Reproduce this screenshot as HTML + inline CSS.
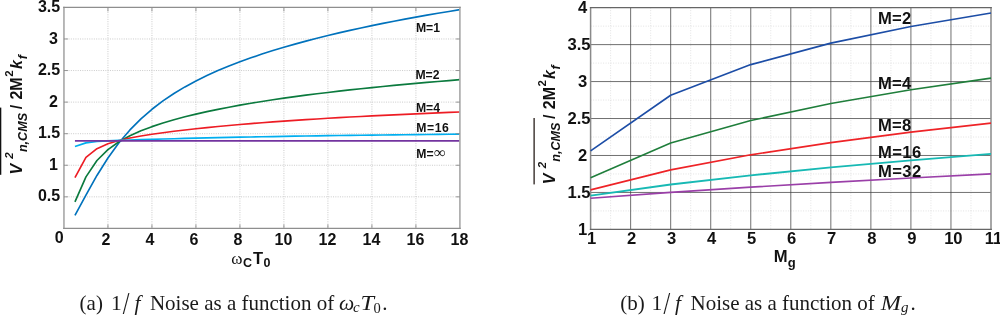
<!DOCTYPE html>
<html lang="en">
<head>
<meta charset="utf-8">
<title>1/f Noise figure</title>
<style>
html,body{margin:0;padding:0;background:#fff;}
body{width:1000px;height:316px;overflow:hidden;}
svg{display:block;}
</style>
</head>
<body>
<svg width="1000" height="316" viewBox="0 0 1000 316">
<rect width="1000" height="316" fill="#fff"/>
<g id="left">
<g stroke="#c2c2c2" stroke-width="0.85" stroke-dasharray="1 1.3" fill="none">
<line x1="107.94" y1="7.4" x2="107.94" y2="228.4"/>
<line x1="151.94" y1="7.4" x2="151.94" y2="228.4"/>
<line x1="195.93" y1="7.4" x2="195.93" y2="228.4"/>
<line x1="239.93" y1="7.4" x2="239.93" y2="228.4"/>
<line x1="283.92" y1="7.4" x2="283.92" y2="228.4"/>
<line x1="327.92" y1="7.4" x2="327.92" y2="228.4"/>
<line x1="371.91" y1="7.4" x2="371.91" y2="228.4"/>
<line x1="415.91" y1="7.4" x2="415.91" y2="228.4"/>
<line x1="63.95" y1="196.83" x2="459.9" y2="196.83"/>
<line x1="63.95" y1="165.26" x2="459.9" y2="165.26"/>
<line x1="63.95" y1="133.69" x2="459.9" y2="133.69"/>
<line x1="63.95" y1="102.11" x2="459.9" y2="102.11"/>
<line x1="63.95" y1="70.54" x2="459.9" y2="70.54"/>
<line x1="63.95" y1="38.97" x2="459.9" y2="38.97"/>
</g>
<polyline points="74.95,215.28 85.95,195.14 96.95,175.45 107.94,157.95 118.94,142.84 129.94,129.92 140.94,118.84 151.94,109.26 162.94,100.89 173.94,93.50 184.93,86.90 195.93,80.96 206.93,75.55 217.93,70.60 228.93,66.02 239.93,61.77 250.93,57.80 261.93,54.07 272.92,50.56 283.92,47.24 294.92,44.09 305.92,41.10 316.92,38.24 327.92,35.51 338.92,32.89 349.91,30.38 360.91,27.97 371.91,25.65 382.91,23.41 393.91,21.25 404.91,19.16 415.91,17.14 426.90,15.18 437.90,13.28 448.90,11.44 459.90,9.65" fill="none" stroke="#0072bc" stroke-width="1.65" stroke-linejoin="round"/>
<polyline points="74.95,201.81 85.95,176.87 96.95,160.52 107.94,149.58 118.94,141.74 129.94,135.72 140.94,130.81 151.94,126.65 162.94,123.01 173.94,119.76 184.93,116.82 195.93,114.13 206.93,111.64 217.93,109.34 228.93,107.19 239.93,105.17 250.93,103.28 261.93,101.49 272.92,99.79 283.92,98.18 294.92,96.65 305.92,95.19 316.92,93.79 327.92,92.45 338.92,91.17 349.91,89.93 360.91,88.74 371.91,87.60 382.91,86.49 393.91,85.42 404.91,84.39 415.91,83.39 426.90,82.42 437.90,81.48 448.90,80.57 459.90,79.68" fill="none" stroke="#0b7a3e" stroke-width="1.65" stroke-linejoin="round"/>
<polyline points="74.95,177.57 85.95,157.32 96.95,148.67 107.94,143.69 118.94,140.45 129.94,138.02 140.94,136.01 151.94,134.27 162.94,132.70 173.94,131.27 184.93,129.95 195.93,128.71 206.93,127.56 217.93,126.48 228.93,125.46 239.93,124.49 250.93,123.58 261.93,122.71 272.92,121.89 283.92,121.10 294.92,120.36 305.92,119.64 316.92,118.95 327.92,118.30 338.92,117.66 349.91,117.05 360.91,116.47 371.91,115.90 382.91,115.35 393.91,114.83 404.91,114.31 415.91,113.82 426.90,113.34 437.90,112.87 448.90,112.42 459.90,111.98" fill="none" stroke="#ed1c24" stroke-width="1.65" stroke-linejoin="round"/>
<polyline points="74.95,146.54 85.95,142.86 96.95,141.54 107.94,140.88 118.94,140.42 129.94,140.04 140.94,139.68 151.94,139.35 162.94,139.04 173.94,138.73 184.93,138.44 195.93,138.17 206.93,137.90 217.93,137.65 228.93,137.41 239.93,137.18 250.93,136.97 261.93,136.76 272.92,136.56 283.92,136.37 294.92,136.19 305.92,136.01 316.92,135.84 327.92,135.68 338.92,135.53 349.91,135.38 360.91,135.23 371.91,135.09 382.91,134.96 393.91,134.83 404.91,134.70 415.91,134.58 426.90,134.46 437.90,134.35 448.90,134.23 459.90,134.12" fill="none" stroke="#00aeef" stroke-width="1.65" stroke-linejoin="round"/>
<line x1="74.95" y1="140.87" x2="459.9" y2="140.87" stroke="#73349f" stroke-width="1.65"/>
<path d="M63.95 6.800000000000001V229.0M459.9 6.800000000000001V229.0" fill="none" stroke="#a8a8a8" stroke-width="1.6"/>
<path d="M63.150000000000006 7.4H460.7M63.150000000000006 228.4H460.7" fill="none" stroke="#8e8e8e" stroke-width="1.15"/>
<g stroke="#8c8c8c" stroke-width="0.9">
<line x1="107.94" y1="228.4" x2="107.94" y2="224.4"/>
<line x1="107.94" y1="7.4" x2="107.94" y2="11.4"/>
<line x1="151.94" y1="228.4" x2="151.94" y2="224.4"/>
<line x1="151.94" y1="7.4" x2="151.94" y2="11.4"/>
<line x1="195.93" y1="228.4" x2="195.93" y2="224.4"/>
<line x1="195.93" y1="7.4" x2="195.93" y2="11.4"/>
<line x1="239.93" y1="228.4" x2="239.93" y2="224.4"/>
<line x1="239.93" y1="7.4" x2="239.93" y2="11.4"/>
<line x1="283.92" y1="228.4" x2="283.92" y2="224.4"/>
<line x1="283.92" y1="7.4" x2="283.92" y2="11.4"/>
<line x1="327.92" y1="228.4" x2="327.92" y2="224.4"/>
<line x1="327.92" y1="7.4" x2="327.92" y2="11.4"/>
<line x1="371.91" y1="228.4" x2="371.91" y2="224.4"/>
<line x1="371.91" y1="7.4" x2="371.91" y2="11.4"/>
<line x1="415.91" y1="228.4" x2="415.91" y2="224.4"/>
<line x1="415.91" y1="7.4" x2="415.91" y2="11.4"/>
<line x1="63.95" y1="196.83" x2="67.95" y2="196.83"/>
<line x1="459.9" y1="196.83" x2="455.9" y2="196.83"/>
<line x1="63.95" y1="165.26" x2="67.95" y2="165.26"/>
<line x1="459.9" y1="165.26" x2="455.9" y2="165.26"/>
<line x1="63.95" y1="133.69" x2="67.95" y2="133.69"/>
<line x1="459.9" y1="133.69" x2="455.9" y2="133.69"/>
<line x1="63.95" y1="102.11" x2="67.95" y2="102.11"/>
<line x1="459.9" y1="102.11" x2="455.9" y2="102.11"/>
<line x1="63.95" y1="70.54" x2="67.95" y2="70.54"/>
<line x1="459.9" y1="70.54" x2="455.9" y2="70.54"/>
<line x1="63.95" y1="38.97" x2="67.95" y2="38.97"/>
<line x1="459.9" y1="38.97" x2="455.9" y2="38.97"/>
</g>
<g font-family='"Liberation Sans", Arial, Helvetica, sans-serif' font-weight="bold" font-size="16" fill="#111" text-anchor="end">
<text x="60.2" y="12.00">3.5</text>
<text x="57.8" y="43.57">3</text>
<text x="60.2" y="75.14">2.5</text>
<text x="57.8" y="106.71">2</text>
<text x="60.2" y="138.29">1.5</text>
<text x="57.8" y="169.86">1</text>
<text x="60.2" y="201.43">0.5</text>
<text x="63.6" y="242.8">0</text>
</g>
<g font-family='"Liberation Sans", Arial, Helvetica, sans-serif' font-weight="bold" font-size="16" fill="#111" text-anchor="middle">
<text x="105.94" y="244.5">2</text>
<text x="149.94" y="244.5">4</text>
<text x="193.93" y="244.5">6</text>
<text x="237.93" y="244.5">8</text>
<text x="283.52" y="244.5">10</text>
<text x="327.52" y="244.5">12</text>
<text x="371.51" y="244.5">14</text>
<text x="415.51" y="244.5">16</text>
<text x="459.50" y="244.5">18</text>
</g>
<text x="231.3" y="263.6" font-family='"Liberation Serif", "Times New Roman", Times, serif' font-size="17" fill="#111">ω</text>
<g font-family='"Liberation Sans", Arial, Helvetica, sans-serif' font-weight="bold" fill="#111">
<text x="243.1" y="267.2" font-size="12.5">C</text>
<text x="253.0" y="263.5" font-size="16.5">T</text>
<text x="263.4" y="267.2" font-size="12.5">0</text>
</g>
<g font-family='"Liberation Sans", Arial, Helvetica, sans-serif' font-weight="bold" font-size="12.2" fill="#111">
<text x="415.9" y="31.6" letter-spacing="0">M=1</text>
<text x="415.4" y="78.9" letter-spacing="0">M=2</text>
<text x="415.9" y="111.5" letter-spacing="0">M=4</text>
<text x="416.3" y="131.8" letter-spacing="0.55">M=16</text>
<text x="416.3" y="158.3">M=<tspan font-family='"Liberation Serif", "Times New Roman", Times, serif' font-weight="normal" font-size="16.5" dx="0.3">∞</tspan></text>
</g>
</g>
<g font-family='"Liberation Sans", Arial, Helvetica, sans-serif' font-weight="bold" fill="#111">
<text transform="translate(22.00,174.60) rotate(-90)" font-size="16" font-style="italic">V</text>
<text transform="translate(12.80,158.70) rotate(-90)" font-size="11.5" font-style="italic">2</text>
<text transform="translate(27.00,152.10) rotate(-90)" font-size="12.6" font-style="italic">n,CMS</text>
<text transform="translate(22.00,109.30) rotate(-90)" font-size="16">/</text>
<text transform="translate(22.00,99.60) rotate(-90)" font-size="16">2M</text>
<text transform="translate(12.80,76.80) rotate(-90)" font-size="11.5">2</text>
<text transform="translate(22.00,68.90) rotate(-90)" font-size="16" font-style="italic">k</text>
<text transform="translate(27.00,59.30) rotate(-90)" font-size="12.6" font-style="italic">f</text>
</g>
<rect x="-0.3" y="107.60" width="1.6" height="67.20" fill="#111"/>
<g font-family='"Liberation Sans", Arial, Helvetica, sans-serif' font-weight="bold" fill="#111">
<text transform="translate(555.20,184.20) rotate(-90)" font-size="16" font-style="italic">V</text>
<text transform="translate(546.00,168.30) rotate(-90)" font-size="11.5" font-style="italic">2</text>
<text transform="translate(560.20,161.70) rotate(-90)" font-size="12.6" font-style="italic">n,CMS</text>
<text transform="translate(555.20,118.90) rotate(-90)" font-size="16">/</text>
<text transform="translate(555.20,109.20) rotate(-90)" font-size="16">2M</text>
<text transform="translate(546.00,86.40) rotate(-90)" font-size="11.5">2</text>
<text transform="translate(555.20,79.10) rotate(-90)" font-size="16" font-style="italic">k</text>
<text transform="translate(560.20,69.50) rotate(-90)" font-size="12.6" font-style="italic">f</text>
</g>
<rect x="533.3" y="118.00" width="1.7" height="66.40" fill="#5a5350"/>
<g id="right">
<g stroke="#dcdcdc" stroke-width="0.8" stroke-dasharray="1 1.5" fill="none">
<line x1="610.62" y1="7.65" x2="610.62" y2="229.4"/>
<line x1="650.66" y1="7.65" x2="650.66" y2="229.4"/>
<line x1="690.70" y1="7.65" x2="690.70" y2="229.4"/>
<line x1="730.74" y1="7.65" x2="730.74" y2="229.4"/>
<line x1="770.78" y1="7.65" x2="770.78" y2="229.4"/>
<line x1="810.82" y1="7.65" x2="810.82" y2="229.4"/>
<line x1="850.86" y1="7.65" x2="850.86" y2="229.4"/>
<line x1="890.90" y1="7.65" x2="890.90" y2="229.4"/>
<line x1="930.94" y1="7.65" x2="930.94" y2="229.4"/>
<line x1="970.98" y1="7.65" x2="970.98" y2="229.4"/>
<line x1="590.6" y1="210.92" x2="991.0" y2="210.92"/>
<line x1="590.6" y1="173.96" x2="991.0" y2="173.96"/>
<line x1="590.6" y1="137.00" x2="991.0" y2="137.00"/>
<line x1="590.6" y1="100.05" x2="991.0" y2="100.05"/>
<line x1="590.6" y1="63.09" x2="991.0" y2="63.09"/>
<line x1="590.6" y1="26.13" x2="991.0" y2="26.13"/>
</g>
<g stroke="#404040" stroke-width="0.75" fill="none">
<line x1="630.64" y1="7.65" x2="630.64" y2="229.4"/>
<line x1="670.68" y1="7.65" x2="670.68" y2="229.4"/>
<line x1="710.72" y1="7.65" x2="710.72" y2="229.4"/>
<line x1="750.76" y1="7.65" x2="750.76" y2="229.4"/>
<line x1="790.80" y1="7.65" x2="790.80" y2="229.4"/>
<line x1="830.84" y1="7.65" x2="830.84" y2="229.4"/>
<line x1="870.88" y1="7.65" x2="870.88" y2="229.4"/>
<line x1="910.92" y1="7.65" x2="910.92" y2="229.4"/>
<line x1="950.96" y1="7.65" x2="950.96" y2="229.4"/>
<line x1="590.6" y1="192.44" x2="991.0" y2="192.44"/>
<line x1="590.6" y1="155.48" x2="991.0" y2="155.48"/>
<line x1="590.6" y1="118.53" x2="991.0" y2="118.53"/>
<line x1="590.6" y1="81.57" x2="991.0" y2="81.57"/>
<line x1="590.6" y1="44.61" x2="991.0" y2="44.61"/>
</g>
<path d="M590.6 7.1000000000000005V229.95000000000002M991.0 7.1000000000000005V229.95000000000002" fill="none" stroke="#8a8a8a" stroke-width="1.5"/>
<path d="M589.9 7.65H991.8M589.9 229.4H991.8" fill="none" stroke="#666" stroke-width="1.15"/>
<polyline points="590.60,150.88 670.68,95.26 750.76,64.59 830.84,43.08 910.92,26.48 991.00,12.94" fill="none" stroke="#1c4da6" stroke-width="1.65" stroke-linejoin="round"/>
<polyline points="590.60,177.71 670.68,143.10 750.76,120.53 830.84,103.46 910.92,89.69 991.00,78.12" fill="none" stroke="#1f7e3b" stroke-width="1.6" stroke-linejoin="round"/>
<polyline points="590.60,189.91 670.68,169.84 750.76,154.81 830.84,142.56 910.92,132.16 991.00,123.11" fill="none" stroke="#ee2327" stroke-width="1.65" stroke-linejoin="round"/>
<polyline points="590.60,195.58 670.68,184.53 750.76,175.37 830.84,167.40 910.92,160.31 991.00,153.91" fill="none" stroke="#17b9b4" stroke-width="1.85" stroke-linejoin="round"/>
<polyline points="590.60,198.28 670.68,192.41 750.76,187.19 830.84,182.42 910.92,178.01 991.00,173.90" fill="none" stroke="#9a3fa8" stroke-width="1.65" stroke-linejoin="round"/>
<g font-family='"Liberation Sans", Arial, Helvetica, sans-serif' font-weight="bold" font-size="16.6" fill="#111">
<text x="878.1" y="24.0" letter-spacing="0.15">M=2</text>
<text x="878.1" y="88.6" letter-spacing="0.15">M=4</text>
<text x="878.1" y="131.2" letter-spacing="0.15">M=8</text>
<text x="878.1" y="158.4" letter-spacing="0.35">M=16</text>
<text x="878.1" y="176.6" letter-spacing="0.35">M=32</text>
</g>
<g font-family='"Liberation Sans", Arial, Helvetica, sans-serif' font-weight="bold" font-size="16.6" fill="#111" text-anchor="end">
<text x="587.3" y="13.25">4</text>
<text x="590.5" y="50.21">3.5</text>
<text x="587.3" y="87.17">3</text>
<text x="590.5" y="124.12">2.5</text>
<text x="587.3" y="161.08">2</text>
<text x="590.5" y="198.04">1.5</text>
<text x="587.3" y="235.00">1</text>
</g>
<g font-family='"Liberation Sans", Arial, Helvetica, sans-serif' font-weight="bold" font-size="16.6" fill="#111" text-anchor="middle">
<text x="591.50" y="244.1">1</text>
<text x="631.54" y="244.1">2</text>
<text x="671.58" y="244.1">3</text>
<text x="711.62" y="244.1">4</text>
<text x="751.66" y="244.1">5</text>
<text x="791.70" y="244.1">6</text>
<text x="831.74" y="244.1">7</text>
<text x="871.78" y="244.1">8</text>
<text x="911.82" y="244.1">9</text>
<text x="953.36" y="244.1">10</text>
<text x="993.40" y="244.1">11</text>
</g>
<g font-family='"Liberation Sans", Arial, Helvetica, sans-serif' font-weight="bold" fill="#111">
<text x="773.7" y="262" font-size="16.6">M</text>
<text x="787.8" y="266.6" font-size="13">g</text>
</g>
</g>
<g font-family='"Liberation Serif", "Times New Roman", Times, serif' font-size="21.0" fill="#1a1a1a">
<text x="79.60" y="309.6">(a)</text>
<text x="111.00" y="309.6" font-size="21.5">1</text>
<text transform="translate(122.80,314.1) scale(0.78,1)" font-size="31">/</text>
<text x="134.50" y="309.6" font-style="italic" font-size="21.5">f</text>
<text x="149.90" y="309.6">Noise as a function of</text>
<text x="339.0" y="309.6" font-style="italic" font-size="21.5">ω</text>
<text x="353.0" y="312.2" font-style="italic" font-size="15">c</text>
<text transform="translate(360.6,309.6) scale(1.13,1)" font-style="italic" font-size="21.5">T</text>
<text x="373.6" y="312.6" font-size="14.5">0</text>
<text x="382.2" y="309.6">.</text>
<text x="620.20" y="309.6">(b)</text>
<text x="651.60" y="309.6" font-size="21.5">1</text>
<text transform="translate(663.40,314.1) scale(0.78,1)" font-size="31">/</text>
<text x="675.10" y="309.6" font-style="italic" font-size="21.5">f</text>
<text x="690.50" y="309.6">Noise as a function of</text>
<text transform="translate(880.8,309.6) scale(1.13,1)" font-style="italic" font-size="21.5">M</text>
<text x="901.1" y="312.4" font-style="italic" font-size="15">g</text>
<text x="910.6" y="309.6">.</text>
</g>
</svg>
</body>
</html>
